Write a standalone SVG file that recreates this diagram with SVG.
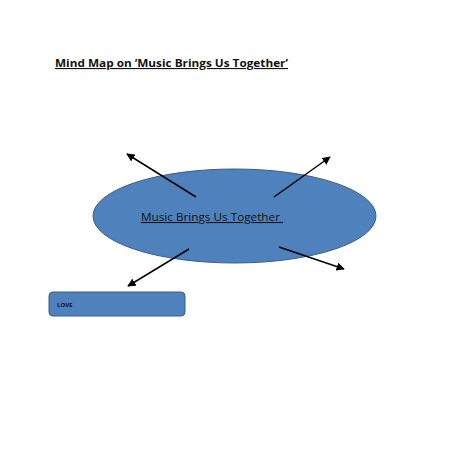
<svg xmlns="http://www.w3.org/2000/svg" width="452" height="452" viewBox="0 0 452 452">
<defs>
<style>
.shape{fill:#4f81bd;stroke:#385d8a;stroke-width:1}
.conn{stroke:#000;stroke-width:1.5;fill:none;marker-end:url(#ah)}
.t{font-family:"Open Sans","Liberation Sans",sans-serif;fill:#111}
</style>
<marker id="ah" viewBox="0 0 10 10" refX="9" refY="5" markerWidth="5.5" markerHeight="5.5" orient="auto" markerUnits="strokeWidth">
<path d="M0,0 L10,5 L0,10 z" fill="#000"/>
</marker>
</defs>
<rect width="452" height="452" fill="#fff"/>
<g id="title">
<text class="t" x="55" y="67" font-size="11" font-weight="bold" text-decoration="underline" textLength="233" lengthAdjust="spacingAndGlyphs">Mind Map on ‘Music Brings Us Together’</text>
</g>
<g id="center">
<ellipse class="shape" cx="234.5" cy="216" rx="141.5" ry="47"/>
<text class="t" x="141" y="221" font-size="10.5" text-decoration="underline" fill="#1a1a40" textLength="142" lengthAdjust="spacingAndGlyphs" xml:space="preserve">Music Brings Us Together </text>
</g>
<g id="love">
<rect class="shape" x="49" y="292" width="136" height="24" rx="4"/>
<text class="t" x="57" y="307" font-size="6" font-weight="bold" fill="#1a1a40">LOVE</text>
</g>
<g id="connectors">
<line class="conn" x1="196" y1="197" x2="127" y2="154"/>
<line class="conn" x1="274" y1="197" x2="330" y2="157"/>
<line class="conn" x1="189" y1="249" x2="128" y2="286"/>
<line class="conn" x1="279" y1="247" x2="344" y2="269"/>
</g>
</svg>
